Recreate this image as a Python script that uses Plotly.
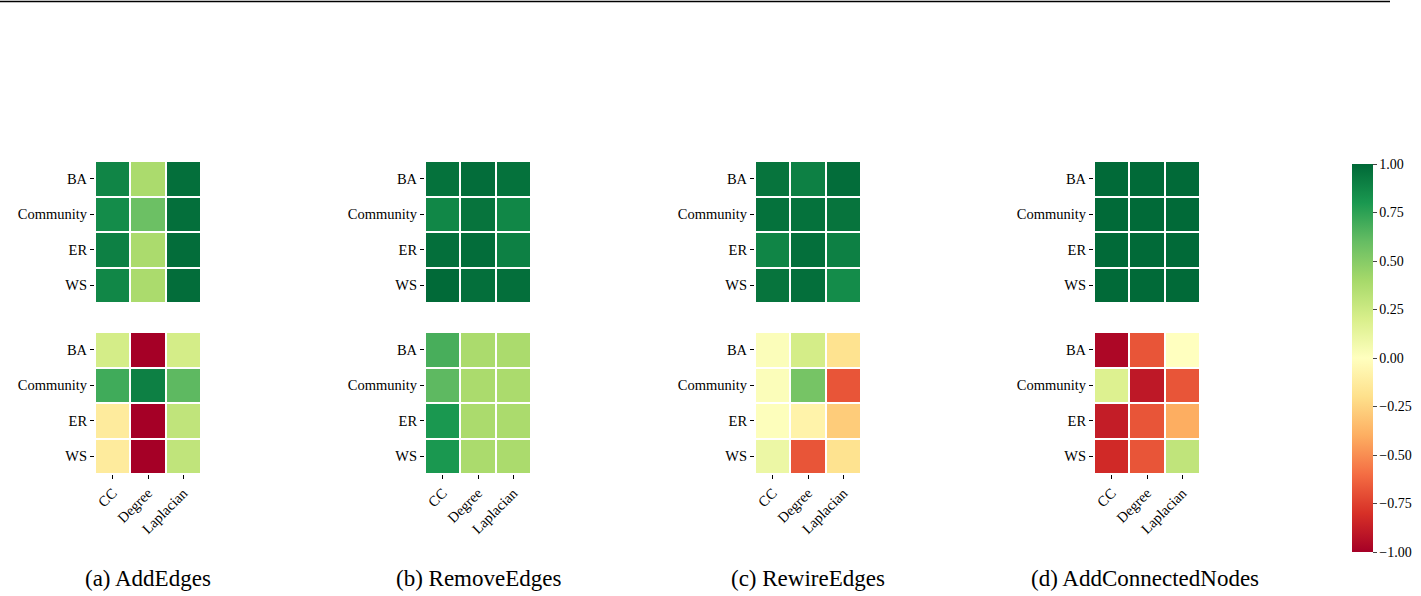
import plotly.graph_objects as go

metrics = ["CC", "Degree", "Laplacian"]
graphs = ["BA", "Community", "ER", "WS"]
captions = ["(a) AddEdges", "(b) RemoveEdges", "(c) RewireEdges", "(d) AddConnectedNodes"]

# top row heatmaps (rows: BA, Community, ER, WS; cols: CC, Degree, Laplacian)
add_edges_top = [[0.88, 0.38, 0.97], [0.85, 0.58, 0.97], [0.90, 0.38, 0.98], [0.87, 0.38, 0.98]]
remove_edges_top = [[0.96, 0.98, 0.96], [0.87, 0.95, 0.87], [0.97, 0.98, 0.90], [0.99, 0.97, 0.97]]
rewire_edges_top = [[0.95, 0.90, 0.98], [0.96, 0.96, 0.95], [0.88, 0.97, 0.90], [0.95, 0.97, 0.85]]
add_nodes_top = [[0.99, 0.99, 0.99], [0.99, 0.99, 0.99], [0.99, 0.99, 0.99], [0.99, 0.99, 0.99]]

# bottom row heatmaps
add_edges_bot = [[0.22, -1.00, 0.22], [0.70, 0.90, 0.62], [-0.13, -1.00, 0.30], [-0.13, -1.00, 0.30]]
remove_edges_bot = [[0.68, 0.38, 0.38], [0.62, 0.38, 0.38], [0.80, 0.38, 0.38], [0.80, 0.38, 0.38]]
rewire_edges_bot = [[0.02, 0.22, -0.18], [0.02, 0.55, -0.68], [0.01, -0.08, -0.28], [0.10, -0.68, -0.18]]
add_nodes_bot = [[-0.97, -0.68, 0.00], [0.18, -0.90, -0.68], [-0.88, -0.68, -0.40], [-0.83, -0.68, 0.30]]

tops = [add_edges_top, remove_edges_top, rewire_edges_top, add_nodes_top]
bots = [add_edges_bot, remove_edges_bot, rewire_edges_bot, add_nodes_bot]

W, H = 1421, 596
panel_x = [(95, 201), (425, 531), (755, 861), (1094, 1200)]
top_y = (161, 303)
bot_y = (332, 474)

def px_x(a, b):
    return [a / W, b / W]

def px_y(a, b):
    return [1 - b / H, 1 - a / H]

font_family = "Liberation Serif, Times New Roman, serif"
fig = go.Figure()
layout = {}
idx = 0
for p in range(4):
    for r, (data, yr) in enumerate([(tops[p], top_y), (bots[p], bot_y)]):
        idx += 1
        sfx = "" if idx == 1 else str(idx)
        show_cb = (idx == 1)
        fig.add_trace(go.Heatmap(
            z=data, x=metrics, y=graphs,
            colorscale="RdYlGn", zmin=-1, zmax=1,
            xgap=2, ygap=2,
            showscale=show_cb,
            colorbar=dict(
                x=1352 / W, xanchor="left", xpad=0,
                y=1 - 164 / H, yanchor="top", ypad=0,
                len=388 / H, lenmode="fraction",
                thickness=21, outlinewidth=0,
                tickvals=[-1, -0.75, -0.5, -0.25, 0, 0.25, 0.5, 0.75, 1],
                tickformat=".2f", ticks="outside", ticklen=4,
                tickfont=dict(family=font_family, size=14, color="black"),
            ),
            xaxis="x" + sfx, yaxis="y" + sfx,
            hoverinfo="skip",
        ))
        layout["xaxis" + sfx] = dict(
            domain=px_x(*panel_x[p]), anchor="y" + sfx,
            showticklabels=(r == 1), ticks="outside" if r == 1 else "",
            ticklen=4, tickcolor="black", tickangle=-45,
            tickfont=dict(family=font_family, size=14.5, color="black"),
            showgrid=False, zeroline=False, showline=False, fixedrange=True,
        )
        layout["yaxis" + sfx] = dict(
            domain=px_y(*yr), anchor="x" + sfx,
            autorange="reversed",
            ticks="outside", ticklen=4, tickcolor="black",
            tickfont=dict(family=font_family, size=14.5, color="black"),
            showgrid=False, zeroline=False, showline=False, fixedrange=True,
        )

annotations = []
caption_x = [148, 478, 808, 1145]
for p, cap in enumerate(captions):
    annotations.append(dict(
        text=cap, x=caption_x[p] / W, y=1 - 578 / H, xref="paper", yref="paper",
        xanchor="center", yanchor="middle", showarrow=False,
        font=dict(family=font_family, size=23, color="black"),
    ))

fig.update_layout(
    width=W, height=H,
    margin=dict(l=0, r=0, t=0, b=0),
    paper_bgcolor="white", plot_bgcolor="white",
    showlegend=False,
    annotations=annotations,
    shapes=[dict(type="line", xref="paper", yref="paper",
                 x0=0, x1=1390 / W, y0=1 - 1.5 / H, y1=1 - 1.5 / H,
                 line=dict(color="black", width=1.5))],
    **layout,
)

fig.write_html(
    "out.html",
    config={"displayModeBar": False},
    post_script="document.body.style.margin='0';document.body.style.overflow='hidden';",
)
